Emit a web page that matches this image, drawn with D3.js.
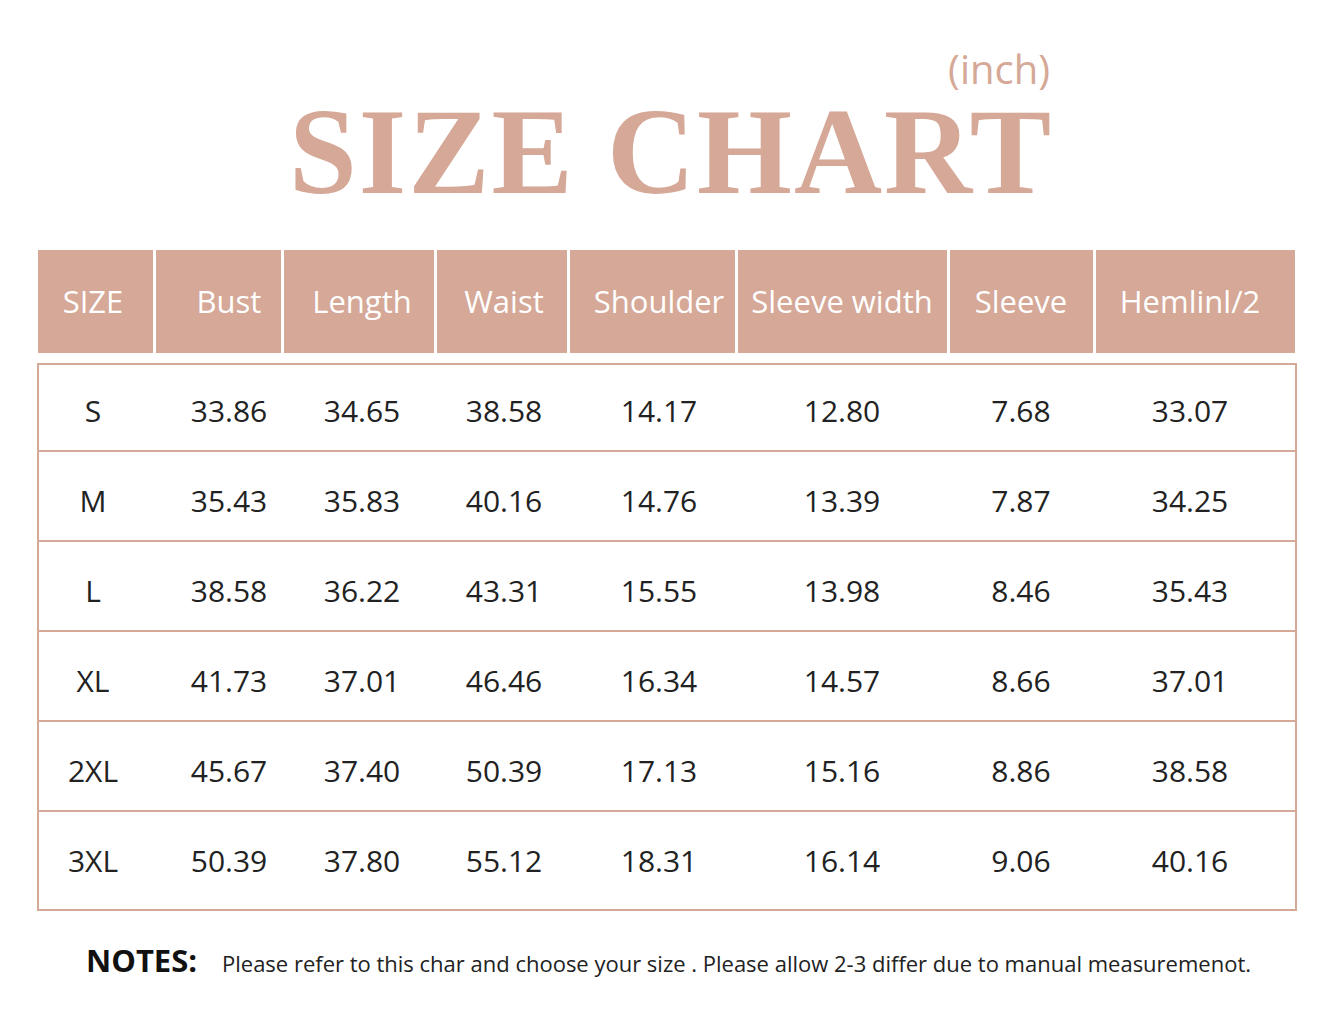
<!DOCTYPE html>
<html>
<head>
<meta charset="utf-8">
<script src="https://cdn.jsdelivr.net/npm/d3@7"></script>
<style>
  body { margin: 0; background: #fff; }
  svg text { font-family: "Open Sans", "Noto Sans", sans-serif; }
</style>
</head>
<body>
<svg id="chart" width="1336" height="1024"></svg>
<script>
// table data
var columns = ["SIZE", "Bust", "Length", "Waist", "Shoulder", "Sleeve width", "Sleeve", "Hemlinl/2"];
var sizes = ["S", "M", "L", "XL", "2XL", "3XL"];
var bust = ["33.86", "35.43", "38.58", "41.73", "45.67", "50.39"];
var length = ["34.65", "35.83", "36.22", "37.01", "37.40", "37.80"];
var waist = ["38.58", "40.16", "43.31", "46.46", "50.39", "55.12"];
var shoulder = ["14.17", "14.76", "15.55", "16.34", "17.13", "18.31"];
var sleeveWidth = ["12.80", "13.39", "13.98", "14.57", "15.16", "16.14"];
var sleeve = ["7.68", "7.87", "8.46", "8.66", "8.86", "9.06"];
var hemline = ["33.07", "34.25", "35.43", "37.01", "38.58", "40.16"];

var rows = sizes.map(function(s, i){
    return [s, bust[i], length[i], waist[i], shoulder[i], sleeveWidth[i], sleeve[i], hemline[i]];
});

// layout
var colEdges = [38, 156, 284, 437, 570, 738, 950, 1096, 1298];
var pink = "#d5a897";
var svg = d3.select("#chart");

var colX = d3.scaleOrdinal().domain(columns).range(colEdges.slice(0, -1));
var colW = d3.scaleOrdinal().domain(columns).range(colEdges.slice(1).map(function(e, i){
    return e - colEdges[i] - 3;
}));
var colC = d3.scaleOrdinal().domain(columns).range([93, 229, 362, 504, 659, 842, 1021, 1190]);
var y = d3.scaleBand().domain(sizes).range([361, 901]);

// title
svg.append("text").attr("x", 670).attr("y", 193).attr("text-anchor", "middle")
    .style("font-family", "'Liberation Serif', 'DejaVu Serif', serif")
    .style("font-weight", "bold").style("font-size", "122px")
    .attr("fill", pink).attr("textLength", 762).text("SIZE CHART");
svg.append("text").attr("x", 1050).attr("y", 84).attr("text-anchor", "end")
    .style("font-size", "40px").attr("fill", pink).text("(inch)");

// header
var head = svg.selectAll("g.head").data(columns).enter().append("g");
head.append("rect")
    .attr("x", function(d){ return colX(d); })
    .attr("y", 250)
    .attr("width", function(d){ return colW(d); })
    .attr("height", 103)
    .attr("fill", pink);
head.append("text")
    .attr("x", function(d){ return colC(d); })
    .attr("y", 313)
    .attr("text-anchor", "middle")
    .attr("fill", "#fff")
    .style("font-size", "31px")
    .text(function(d){ return d; });

// body frame
svg.append("rect").attr("x", 38).attr("y", 364).attr("width", 1258).attr("height", 546)
    .attr("fill", "none").attr("stroke", pink).attr("stroke-width", 2);
svg.selectAll("line.row").data(sizes.slice(1)).enter().append("line")
    .attr("x1", 38).attr("x2", 1297)
    .attr("y1", function(d){ return y(d); })
    .attr("y2", function(d){ return y(d); })
    .attr("stroke", pink).attr("stroke-width", 2);

svg.selectAll("g.row").data(rows).enter().append("g")
    .attr("transform", function(d){ return "translate(0," + (y(d[0]) + y.bandwidth() / 2 + 16) + ")"; })
    .selectAll("text").data(function(d){ return d; }).enter().append("text")
    .attr("x", function(d, i){ return colC(columns[i]); })
    .attr("text-anchor", "middle")
    .attr("fill", "#222")
    .style("font-size", "30px")
    .text(function(d){ return d; });

// notes
svg.append("text").attr("x", 86).attr("y", 972)
    .style("font-weight", "bold").style("font-size", "31px").attr("fill", "#111").text("NOTES:");
svg.append("text").attr("x", 222).attr("y", 972)
    .style("font-size", "22px").attr("fill", "#222").attr("textLength", 1029)
    .text("Please refer to this char and choose your size . Please allow 2-3 differ due to manual measuremenot.");
</script>
</body>
</html>
